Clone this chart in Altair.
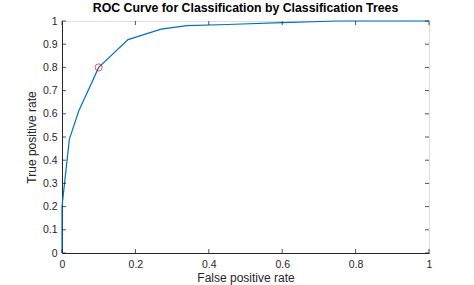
import altair as alt
import pandas as pd

# ROC curve points (false positive rate, true positive rate)
fpr = [0.0, 0.0, 0.02, 0.045, 0.10, 0.18, 0.27, 0.34, 0.45, 0.60, 0.75, 1.0]
tpr = [0.0, 0.20, 0.49, 0.61, 0.80, 0.92, 0.965, 0.98, 0.985, 0.993, 1.0, 1.0]

# operating point of the classifier
op_fpr = [0.10]
op_tpr = [0.80]

x_ticks = [0.0, 0.2, 0.4, 0.6, 0.8, 1.0]
y_ticks = [0.0, 0.1, 0.2, 0.3, 0.4, 0.5, 0.6, 0.7, 0.8, 0.9, 1.0]

W, H = 367, 232
AXIS = "#262626"
FONT = "Liberation Sans"
X_TITLE = "False positive rate"
Y_TITLE = "True positive rate"

curve = pd.DataFrame({"fpr": fpr, "tpr": tpr, "order": range(len(fpr))})
point = pd.DataFrame({"fpr": op_fpr, "tpr": op_tpr})
xt = pd.DataFrame({"v": x_ticks})
yt = pd.DataFrame({"v": y_ticks})

xscale = alt.Scale(domain=[0, 1], nice=False)
yscale = alt.Scale(domain=[0, 1], nice=False)

common = dict(
    format="~g", grid=False, ticks=False, domainColor=AXIS,
    labelColor=AXIS, titleColor=AXIS, labelFontSize=10.5, titleFontSize=12,
    titleFontWeight="normal", labelFont=FONT, titleFont=FONT,
    labelOverlap=False, labelFlush=False, labelBound=False,
)
x_axis = alt.Axis(values=x_ticks, labelPadding=6, titlePadding=3, **common)
y_axis = alt.Axis(values=y_ticks, labelPadding=5, titlePadding=4, **common)


def xenc(field):
    return alt.X(field, scale=xscale, axis=x_axis, title=X_TITLE)


def yenc(field):
    return alt.Y(field, scale=yscale, axis=y_axis, title=Y_TITLE)


line = alt.Chart(curve).mark_line(color="#0072BD", strokeWidth=1.2).encode(
    x=xenc("fpr:Q"), y=yenc("tpr:Q"), order="order:Q",
)

op = alt.Chart(point).mark_point(
    shape="circle", filled=False, color="#FF0000", size=50, strokeWidth=1
).encode(x=xenc("fpr:Q"), y=yenc("tpr:Q"))

# inward tick marks on all four sides of the box
tick_len = 4
bottom_ticks = alt.Chart(xt).mark_rule(color=AXIS, strokeWidth=0.8).encode(
    x=xenc("v:Q"), y=alt.value(H), y2=alt.value(H - tick_len))
top_ticks = alt.Chart(xt).mark_rule(color=AXIS, strokeWidth=0.8).encode(
    x=xenc("v:Q"), y=alt.value(0), y2=alt.value(tick_len))
left_ticks = alt.Chart(yt).mark_rule(color=AXIS, strokeWidth=0.8).encode(
    y=yenc("v:Q"), x=alt.value(0), x2=alt.value(tick_len))
right_ticks = alt.Chart(yt).mark_rule(color=AXIS, strokeWidth=0.8).encode(
    y=yenc("v:Q"), x=alt.value(W), x2=alt.value(W - tick_len))

chart = alt.layer(
    line, op, bottom_ticks, top_ticks, left_ticks, right_ticks
).properties(
    width=W, height=H,
    title=alt.TitleParams(
        "ROC Curve for Classification by Classification Trees",
        font=FONT, fontSize=12.3, fontWeight="bold", color="#000000",
        anchor="middle", frame="group", offset=2,
    ),
    autosize=alt.AutoSizeParams(type="none"),
    padding={"left": 62, "top": 21, "right": 45, "bottom": 32},
).configure_view(
    stroke=AXIS, strokeWidth=1
).configure(background="white")

chart.save("out.html", embed_options={"renderer": "svg", "actions": False})
